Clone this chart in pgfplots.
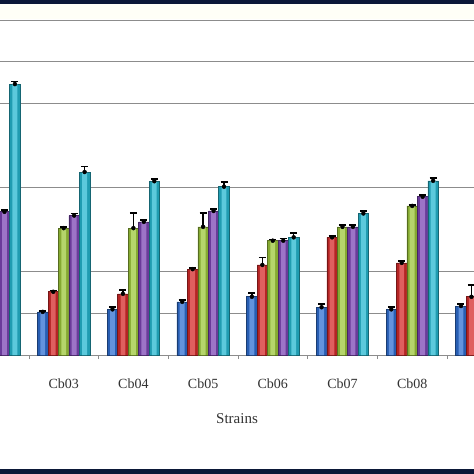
\documentclass[border=0pt]{standalone}
\usepackage{pgfplots}
\pgfplotsset{compat=1.18}
\usepackage{pgfplotstable}
\usepackage{fontspec}
\setmainfont{Liberation Serif}
\definecolor{navy}{HTML}{0B1838}
\definecolor{cblue}{HTML}{2F6FD2}
\definecolor{cred}{HTML}{D42A2A}
\definecolor{cgreen}{HTML}{9DC73A}
\definecolor{cpurple}{HTML}{7D45B5}
\definecolor{ccyan}{HTML}{26B7D0}
\definecolor{gridg}{HTML}{8C8C8C}

\pgfplotstableread{
x y e
0 1.10 0.03
1 1.03 0.03
2 1.09 0.05
3 1.27 0.05
4 1.39 0.10
5 1.14 0.07
6 1.09 0.05
7 1.17 0.05
}\tblue
\pgfplotstableread{
x y e
0 1.50 0.03
1 1.51 0.03
2 1.46 0.10
3 2.05 0.03
4 2.15 0.18
5 2.81 0.03
6 2.20 0.05
7 1.39 0.28
}\tred
\pgfplotstableread{
x y e
0 3.00 0.03
1 3.03 0.03
2 3.03 0.37
3 3.06 0.33
4 2.73 0.03
5 3.06 0.05
6 3.56 0.03
7 3.20 0.03
}\tgreen
\pgfplotstableread{
x y e
0 3.42 0.05
1 3.33 0.05
2 3.18 0.05
3 3.44 0.05
4 2.73 0.05
5 3.06 0.05
6 3.78 0.05
7 3.50 0.05
}\tpurple
\pgfplotstableread{
x y e
0 6.47 0.06
1 4.37 0.13
2 4.15 0.05
3 4.02 0.11
4 2.81 0.10
5 3.38 0.05
6 4.16 0.07
7 4.00 0.05
}\tcyan

\pgfplotsset{
  basebar/.style 2 args={ybar, bar width=0.15, bar shift=#2, fill=#1!85!black, draw=#1!55!black, line width=0.6pt},
  litebar/.style 2 args={ybar, bar width=0.07, bar shift=#2, fill=#1!75!white, draw=none},
  errs/.style={only marks, mark=none,
     error bars/.cd, y dir=plus, y explicit,
     error bar style={black, line width=1.3pt},
     error mark options={black, rotate=90, mark size=3.5pt, line width=1.8pt}},
}

\begin{document}
\begin{tikzpicture}[x=1pt,y=1pt]
\begin{axis}[
  scale only axis, width=474pt, height=335pt,
  xmin=0.086, xmax=6.887, ymin=0, ymax=8,
  axis x line*=bottom, axis y line*=left,
  y axis line style={draw=none},
  x axis line style={draw=gridg, line width=0.8pt, -},
  major y tick style={draw=none},
  ytick={1,2,4,6,7,8}, yticklabels={},
  ymajorgrids, grid style={draw=gridg, line width=0.9pt},
  xtick={0,...,7},
  xticklabels={Cb02,Cb03,Cb04,Cb05,Cb06,Cb07,Cb08,Cb09},
  major x tick style={draw=none},
  extra x ticks={0.5,1.5,...,6.5},
  extra x tick labels={},
  extra x tick style={tick align=outside, major tick length=4pt, major x tick style={draw=gridg, line width=0.6pt}, grid=none},
  xticklabel style={font=\fontsize{14}{16}\selectfont, text=black!80, yshift=-20pt},
  xlabel={Strains},
  xlabel style={font=\fontsize{15}{17}\selectfont, text=black!80, yshift=-14pt},
  clip=true,
]
\coordinate (bl) at (rel axis cs:0,0);
\addplot[basebar={cblue}{-0.3}] table[x=x,y=y]{\tblue};
\addplot[basebar={cred}{-0.15}] table[x=x,y=y]{\tred};
\addplot[basebar={cgreen}{0}] table[x=x,y=y]{\tgreen};
\addplot[basebar={cpurple}{0.15}] table[x=x,y=y]{\tpurple};
\addplot[basebar={ccyan}{0.3}] table[x=x,y=y]{\tcyan};
\addplot[litebar={cblue}{-0.3}] table[x=x,y=y]{\tblue};
\addplot[litebar={cred}{-0.15}] table[x=x,y=y]{\tred};
\addplot[litebar={cgreen}{0}] table[x=x,y=y]{\tgreen};
\addplot[litebar={cpurple}{0.15}] table[x=x,y=y]{\tpurple};
\addplot[litebar={ccyan}{0.3}] table[x=x,y=y]{\tcyan};
\addplot[errs] table[x expr=\thisrow{x}-0.3,y=y,y error=e]{\tblue};
\addplot[errs] table[x expr=\thisrow{x}-0.15,y=y,y error=e]{\tred};
\addplot[errs] table[x=x,y=y,y error=e]{\tgreen};
\addplot[errs] table[x expr=\thisrow{x}+0.15,y=y,y error=e]{\tpurple};
\addplot[errs] table[x expr=\thisrow{x}+0.3,y=y,y error=e]{\tcyan};
\end{axis}
\fill[yellow!3] (bl) ++(0,336) rectangle ++(474,15);
\fill[navy] (bl) ++(0,351) rectangle ++(474,4);
\fill[navy] (bl) ++(0,-119) rectangle ++(474,5);
\pgfresetboundingbox
\path[use as bounding box] (bl) ++(0,-119) rectangle ++(474,474);
\end{tikzpicture}
\end{document}
